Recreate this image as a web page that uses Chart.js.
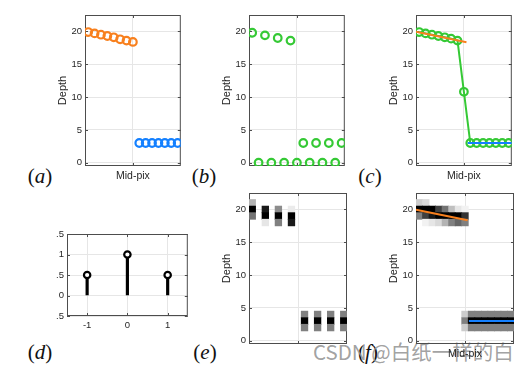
<!DOCTYPE html>
<html>
<head>
<meta charset="utf-8">
<script src="https://cdn.jsdelivr.net/npm/chart.js@4.4.0/dist/chart.umd.min.js"></script>
<style>
  html, body { margin: 0; padding: 0; background: #fff; }
  body { width: 523px; height: 370px; position: relative; overflow: hidden; }
  canvas { position: absolute; }
  .tag { position: absolute; font-family: "Liberation Serif", "DejaVu Serif", serif; font-size: 21px; color: #111;
         transform: translate(-50%, -50%); white-space: nowrap; line-height: 1; }
  #clipD { position: absolute; left: 56px; top: 210px; width: 150px; height: 130px; overflow: hidden; }
  .mark { position: absolute; left: 313px; top: 341px; font-family: "Noto Sans CJK SC", sans-serif; font-size: 20.5px;
          line-height: 20px; color: rgba(150,150,150,0.9); white-space: nowrap; }
</style>
</head>
<body>
<div id="clipD"></div>
<div class="tag" style="left:40px;top:176px">(<i>a</i>)</div>
<div class="tag" style="left:204px;top:176px">(<i>b</i>)</div>
<div class="tag" style="left:370px;top:176px">(<i>c</i>)</div>
<div class="tag" style="left:40px;top:352px">(<i>d</i>)</div>
<div class="tag" style="left:205px;top:352px">(<i>e</i>)</div>
<div class="tag" style="left:368px;top:352px">(<i>f</i>)</div>
<div class="mark">CSDN @白纸一样的白</div>
<script>
// ---- data ----
const depthTicks = [0, 5, 10, 15, 20];
const midPix = 8;

// (a) foreground / background surfaces
const fgPix = [1, 2, 3, 4, 5, 6, 7, 8];
const fgDepth = [19.9, 19.7, 19.5, 19.3, 19.1, 18.8, 18.6, 18.4];
const bgPix = [9, 10, 11, 12, 13, 14, 15];
const bgDepth = [3, 3, 3, 3, 3, 3, 3];

// (b) sampled depths
const oddPix = [1, 3, 5, 7, 9, 11, 13, 15];
const oddDepth = [19.8, 19.4, 19.0, 18.6, 3, 3, 3, 3];
const evenPix = [2, 4, 6, 8, 10, 12, 14];
const evenDepth = [0, 0, 0, 0, 0, 0, 0];

// (c) filtered depth + fitted lines
const allPix = [1, 2, 3, 4, 5, 6, 7, 8, 9, 10, 11, 12, 13, 14, 15];
const filtDepth = [19.9, 19.7, 19.5, 19.3, 19.1, 18.9, 18.6, 10.8, 3, 3, 3, 3, 3, 3, 3];
const fitX = [0.5, 8.4];
const fitY = [19.95, 18.35];
const flatX = [8.6, 15.5];
const flatY = [3, 3];

// (d) kernel
const kernX = [-1, 0, 1];
const kernY = [0.5, 1, 0.5];
const kernTicksX = [-1, 0, 1];
const kernTicksY = [-0.5, 0, 0.5, 1, 1.5];

// (e) depth histogram, intensity per depth row, columns at ePix
const ePix = [1, 3, 5, 7, 9, 11, 13, 15];
const eRow21 = [0.3, 0, 0, 0, 0, 0, 0, 0];
const eRow20 = [1, 0.9, 0.45, 0.08, 0, 0, 0, 0];
const eRow19 = [0.55, 1, 1, 1, 0, 0, 0, 0];
const eRow18 = [0, 0.1, 0.5, 0.9, 0, 0, 0, 0];
const eRow4 = [0, 0, 0, 0, 0.5, 0.5, 0.5, 0.5];
const eRow3 = [0, 0, 0, 0, 1, 1, 1, 1];
const eRow2 = [0, 0, 0, 0, 0.5, 0.5, 0.5, 0.5];

// (f) filtered histogram, columns at allPix
const fRow21 = [0.2, 0.15, 0, 0, 0, 0, 0, 0, 0, 0, 0, 0, 0, 0, 0];
const fRow20 = [1, 1, 1, 0.75, 0.55, 0.25, 0.1, 0.05, 0, 0, 0, 0, 0, 0, 0];
const fRow19 = [0.5, 0.75, 0.9, 1, 1, 1, 1, 0.8, 0, 0, 0, 0, 0, 0, 0];
const fRow18 = [0, 0.05, 0.1, 0.15, 0.3, 0.5, 0.6, 0.5, 0, 0, 0, 0, 0, 0, 0];
const fRow4 = [0, 0, 0, 0, 0, 0, 0, 0.2, 0.5, 0.5, 0.5, 0.5, 0.5, 0.5, 0.5];
const fRow3 = [0, 0, 0, 0, 0, 0, 0, 0.5, 1, 1, 1, 1, 1, 1, 1];
const fRow2 = [0, 0, 0, 0, 0, 0, 0, 0.2, 0.5, 0.5, 0.5, 0.5, 0.5, 0.5, 0.5];

// ---- style ----
const ORANGE = '#f8801e';
const BLUE = '#1480ff';
const GREEN = '#35c935';
const GRID = '#e6e6e6';
const FRAME = '#4d4d4d';
const PAD_T = 12, PAD_R = 4, AX_W = 30, AX_H = 20;

Chart.defaults.font.family = '"Liberation Sans", Arial, sans-serif';
Chart.defaults.font.size = 9.5;
Chart.defaults.color = '#262626';
Chart.defaults.animation = false;
Chart.defaults.plugins.legend.display = false;
Chart.defaults.plugins.tooltip.enabled = false;

// panel boxes (plot area in page pixels)
const A = {l: 85, t: 15, r: 183, b: 166};
const B = {l: 249, t: 15, r: 347, b: 166};
const C = {l: 416, t: 15, r: 514, b: 166};
const D = {l: 67, t: 234, r: 190, b: 316};
const E = {l: 249, t: 193, r: 347, b: 344};
const F = {l: 416, t: 193, r: 514, b: 344};

function makeCanvas(box, parent, offX, offY) {
    const c = document.createElement('canvas');
    c.width = box.r - box.l + AX_W + PAD_R;
    c.height = box.b - box.t + PAD_T + AX_H;
    c.style.left = (box.l - AX_W - (offX || 0)) + 'px';
    c.style.top = (box.t - PAD_T - (offY || 0)) + 'px';
    (parent || document.body).appendChild(c);
    return c;
}

// MATLAB-like box with inward ticks
const boxFrame = {
    id: 'boxFrame',
    beforeDatasetsDraw(chart) {
        const {ctx, chartArea: a, scales: {x, y}} = chart;
        ctx.save();
        ctx.strokeStyle = FRAME;
        ctx.lineWidth = 1;
        ctx.strokeRect(a.left + 0.5, a.top + 0.5, a.right - a.left - 1, a.bottom - a.top - 1);
        ctx.beginPath();
        y.ticks.forEach(t => {
            const py = Math.round(y.getPixelForValue(t.value)) + 0.5;
            ctx.moveTo(a.left, py); ctx.lineTo(a.left + 3, py);
            ctx.moveTo(a.right, py); ctx.lineTo(a.right - 3, py);
        });
        x.ticks.forEach(t => {
            const px = Math.round(x.getPixelForValue(t.value)) + 0.5;
            ctx.moveTo(px, a.bottom); ctx.lineTo(px, a.bottom - 3);
            ctx.moveTo(px, a.top); ctx.lineTo(px, a.top + 3);
        });
        ctx.stroke();
        ctx.restore();
    }
};

function depthAxis(withTitle) {
    return {
        type: 'linear', min: -0.5, max: 22.5,
        afterBuildTicks: s => { s.ticks = depthTicks.map(v => ({value: v})); },
        afterFit: s => { s.width = AX_W; },
        ticks: {padding: 3, callback: v => String(v)},
        grid: {color: GRID, drawTicks: false},
        border: {display: false},
        title: {display: withTitle, text: 'Depth', font: {size: 11}, padding: {top: 1, bottom: 0}}
    };
}

function pixAxis(withTitle) {
    return {
        type: 'linear', min: 0.5, max: 15.5, offset: false,
        afterBuildTicks: s => { s.ticks = [{value: midPix}]; },
        afterFit: s => { s.height = AX_H; },
        ticks: {display: false},
        grid: {color: GRID, drawTicks: false, offset: false},
        border: {display: false},
        title: {display: withTitle, text: 'Mid-pix', font: {size: 10.5}, padding: {top: 0, bottom: 4}}
    };
}

function pts(xs, ys) {
    return xs.map((x, i) => ({x: x, y: ys[i]}));
}

function rings(xs, ys, color, extra) {
    return Object.assign({
        type: 'line',
        data: pts(xs, ys),
        showLine: false,
        borderColor: color,
        pointBorderColor: color,
        pointBackgroundColor: 'rgba(0,0,0,0)',
        pointRadius: 3.8,
        pointBorderWidth: 2.2
    }, extra || {});
}

function fitLine(xs, ys, color, order) {
    return {type: 'line', data: pts(xs, ys), borderColor: color, borderWidth: 2, pointRadius: 0, order: order};
}

function gray(v) {
    const g = Math.round(255 * (1 - v));
    return `rgb(${g},${g},${g})`;
}

function cells(xs, rows) {
    const data = [], colors = [];
    rows.forEach(([d, vals]) => {
        vals.forEach((v, i) => {
            if (v > 0) {
                data.push({x: xs[i], y: [d - 0.5, d + 0.5]});
                colors.push(gray(v));
            }
        });
    });
    return {data, colors};
}

function baseOptions(xAxis, yAxis) {
    return {
        responsive: false,
        layout: {padding: {top: PAD_T, right: PAD_R, left: 0, bottom: 0}},
        scales: {x: xAxis, y: yAxis}
    };
}

// (a)
new Chart(makeCanvas(A), {
    type: 'scatter',
    data: {datasets: [rings(fgPix, fgDepth, ORANGE), rings(bgPix, bgDepth, BLUE)]},
    options: baseOptions(pixAxis(true), depthAxis(true)),
    plugins: [boxFrame]
});

// (b)
new Chart(makeCanvas(B), {
    type: 'scatter',
    data: {datasets: [rings(oddPix, oddDepth, GREEN), rings(evenPix, evenDepth, GREEN)]},
    options: baseOptions(pixAxis(false), depthAxis(true)),
    plugins: [boxFrame]
});

// (c)
new Chart(makeCanvas(C), {
    type: 'scatter',
    data: {datasets: [
        fitLine(fitX, fitY, ORANGE, 0),
        fitLine(flatX, flatY, BLUE, 1),
        rings(allPix, filtDepth, GREEN, {showLine: true, borderWidth: 2, order: 2})
    ]},
    options: baseOptions(pixAxis(true), depthAxis(true)),
    plugins: [boxFrame]
});

// (d) kernel stems, clipped on the left like the source figure
const clipD = document.getElementById('clipD');
new Chart(makeCanvas(D, clipD, 56, 210), {
    type: 'bar',
    data: {datasets: [
        {type: 'line', data: pts(kernX, kernY), showLine: false, pointRadius: 3.2,
         pointBorderWidth: 2.2, pointBorderColor: '#000', pointBackgroundColor: '#fff', order: 0},
        {type: 'bar', data: pts(kernX, kernY), backgroundColor: '#000', barThickness: 2.5, order: 1}
    ]},
    options: baseOptions({
        type: 'linear', min: -1.5, max: 1.5, offset: false,
        afterBuildTicks: s => { s.ticks = kernTicksX.map(v => ({value: v})); },
        afterFit: s => { s.height = AX_H; },
        ticks: {padding: 4, callback: v => String(v)},
        grid: {color: GRID, drawTicks: false, offset: false},
        border: {display: false}
    }, {
        type: 'linear', min: -0.5, max: 1.5,
        afterBuildTicks: s => { s.ticks = kernTicksY.map(v => ({value: v})); },
        afterFit: s => { s.width = AX_W; },
        ticks: {padding: 3, callback: v => String(v)},
        grid: {color: GRID, drawTicks: false},
        border: {display: false}
    }),
    plugins: [boxFrame]
});

// (e)
const eCells = cells(ePix, [[21, eRow21], [20, eRow20], [19, eRow19], [18, eRow18],
                            [4, eRow4], [3, eRow3], [2, eRow2]]);
new Chart(makeCanvas(E), {
    type: 'bar',
    data: {datasets: [{data: eCells.data, backgroundColor: eCells.colors,
                       barPercentage: 0.5, categoryPercentage: 1, inflateAmount: 0.4}]},
    options: baseOptions(pixAxis(false), depthAxis(true)),
    plugins: [boxFrame]
});

// (f)
const fCells = cells(allPix, [[21, fRow21], [20, fRow20], [19, fRow19], [18, fRow18],
                              [4, fRow4], [3, fRow3], [2, fRow2]]);
new Chart(makeCanvas(F), {
    type: 'bar',
    data: {datasets: [
        fitLine(fitX, fitY, ORANGE, 0),
        fitLine(flatX, flatY, BLUE, 1),
        {type: 'bar', data: fCells.data, backgroundColor: fCells.colors,
         barPercentage: 1, categoryPercentage: 1, inflateAmount: 0.4, order: 2}
    ]},
    options: baseOptions(pixAxis(true), depthAxis(true)),
    plugins: [boxFrame]
});
</script>
</body>
</html>
